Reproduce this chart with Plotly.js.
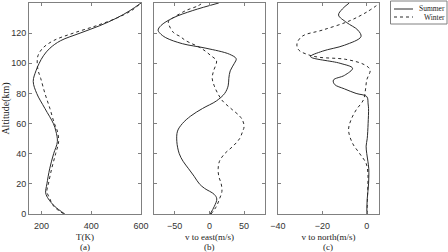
<!DOCTYPE html>
<html><head><meta charset="utf-8">
<script src="https://cdn.plot.ly/plotly-3.0.1.min.js"></script>
<style>html,body{margin:0;padding:0;background:#fff}#c{width:448px;height:252px}</style>
</head><body><div id="c"></div>
<script>
// Panel (a): temperature
const altTS = [0,5,10,14,20,30,40,48,55,60,70,80,88,95,100,105,110,115,120,125,130,135,140];
const tempSummer = [294,254,228,217,222,233,249,264,258,248,214,181,167,178,191,208,234,277,355,435,502,556,600];
const altTW = [0,5,10,15,20,30,40,48,55,60,70,80,90,95,100,105,110,115,120,125,130,135,140];
const tempWinter = [290,250,234,222,228,241,257,269,264,252,234,214,197,187,183,186,205,248,328,422,502,562,600];
// Panel (b): eastward wind
const altES = [0,5,10,13,17,20,25,30,35,40,48,55,60,65,70,75,80,85,90,95,100,103,106,110,113,117,120,122,125,130,135,140];
const eastSummer = [1,7,10.6,7,-7,-14.5,-22,-30,-38,-43.5,-47,-46,-39,-27,-10,10,22,27,28,30,36,38.6,29,-5,-39,-63,-71.5,-74,-70,-53,-24,13.5];
const altEW = [0,5,10,15,20,25,30,35,40,45,50,55,58,62,65,70,75,80,85,90,95,100,102,105,110,115,118,120,125,128,130,135,138,140];
const eastWinter = [2.4,10,14.5,18,17,13.5,12.6,14.5,22,34,43.5,48,50,48,43.5,31,19,12,7,4,6,10,10,2.4,-12,-34,-43,-51,-58,-59,-53,-34,-17,-10];
// Panel (c): northward wind
const altNS = [0,10,20,30,35,40,45,50,60,70,73,77.9,80,83,86,88.9,92,96.7,100,104.4,108,112,117.7,122,127,132,136,140];
const northSummer = [0,0.2,0.8,0.9,0.5,0,-0.3,0.2,0.6,0.8,0.6,0,-4.8,-10,-14.5,-15,-10,-6.4,-12,-25.3,-20,-10,-2.6,-4,-9,-12.7,-11,-7.9];
const altNW = [0,10,20,27,33.6,40.3,46.9,55.7,62.4,69,75.7,82.3,89,95.6,99,102.6,104,105.5,108.8,113,118,122,128,134,140];
const northWinter = [0.15,0.3,0.5,0.5,-0.3,-3.3,-6.4,-8.2,-7.1,-4.8,-1.5,-0.6,0,1.5,-1,-9.4,-21.5,-26,-30.6,-31.4,-29,-20,-8,0,6];

const seriesNames = ["Summer","Winter"];
const panelTitles = ["T(K)","v to east(m/s)","v to north(m/s)"];
const panelLetters = ["(a)","(b)","(c)"];

const lineCol = '#2b2b2b';
const solid = {color: lineCol, width: 1, shape: 'spline', smoothing: 1};
const dotted = {color: lineCol, width: 1, dash: 'dot', shape: 'spline', smoothing: 1};

const traces = [
  {x: tempSummer, y: altTS, xaxis:'x', yaxis:'y', mode:'lines', line: solid, name: seriesNames[0]},
  {x: tempWinter, y: altTW, xaxis:'x', yaxis:'y', mode:'lines', line: dotted, name: seriesNames[1]},
  {x: eastSummer, y: altES, xaxis:'x2', yaxis:'y2', mode:'lines', line: solid, name: seriesNames[0]},
  {x: eastWinter, y: altEW, xaxis:'x2', yaxis:'y2', mode:'lines', line: dotted, name: seriesNames[1]},
  {x: northSummer, y: altNS, xaxis:'x3', yaxis:'y3', mode:'lines', line: solid, name: seriesNames[0]},
  {x: northWinter, y: altNW, xaxis:'x3', yaxis:'y3', mode:'lines', line: dotted, name: seriesNames[1]}
];

const axCol = '#808080';
const tickFont = {family: 'Liberation Sans, Arial, sans-serif', size: 9, color: '#333'};
const titleFont = {family: 'Liberation Serif, Times New Roman, serif', size: 9, color: '#222'};
function xa(domain, range, tickvals, title) {
  return {domain, range, tickvals, ticks:'inside', ticklen:3, tickcolor: axCol, mirror:'ticks',
    showline:true, linecolor:axCol, linewidth:1, zeroline:false, showgrid:false, tickfont:tickFont,
    ticklabelstandoff: 3, title:{text:title, font:titleFont, standoff:3}, fixedrange:true};
}
function ya(anchor, labels) {
  return {anchor, range:[0,140], dtick:20, ticks:'inside', ticklen:3, tickcolor: axCol, mirror:'ticks',
    showline:true, linecolor:axCol, linewidth:1, zeroline:false, showgrid:false, tickfont:tickFont,
    showticklabels: labels, title: labels ? {text:'Altitude(km)', font:{family:titleFont.family, size:10, color:'#222'}, standoff:2} : undefined};
}

const W = 350, H = 211, L = 29, T = 3;
const px = v => (v - L) / W;
const py = v => (T + H - v) / H;
const legFont = {family: titleFont.family, size: 7.5, color: '#222'};

const layout = {
  width: 448, height: 252,
  margin: {l: L, r: 448 - L - W, t: T, b: 252 - T - H, pad: 0},
  paper_bgcolor: '#fff', plot_bgcolor: '#fff', showlegend: false,
  xaxis: xa([0, 0.32], [150, 600], [200,400,600], panelTitles[0]),
  xaxis2: xa([0.357, 0.674], [-80, 80], [-50,0,50], panelTitles[1]),
  xaxis3: xa([0.711, 1], [-40, 5.5], [-40,-20,0], panelTitles[2]),
  yaxis: ya('x', true),
  yaxis2: ya('x2', false),
  yaxis3: ya('x3', false),
  shapes: [
    {type:'rect', xref:'paper', yref:'paper', x0:px(390.5), x1:px(447), y0:py(24), y1:py(1), line:{color:axCol, width:1}, fillcolor:'#fff'},
    {type:'line', xref:'paper', yref:'paper', x0:px(394), x1:px(413), y0:py(9), y1:py(9), line:{color:lineCol, width:1}},
    {type:'line', xref:'paper', yref:'paper', x0:px(394), x1:px(413), y0:py(17), y1:py(17), line:{color:lineCol, width:1, dash:'dot'}}
  ],
  annotations: [
    {xref:'paper', yref:'paper', x:px(445.5), y:py(9), xanchor:'right', yanchor:'middle', showarrow:false, text:seriesNames[0], font:legFont, borderpad:0},
    {xref:'paper', yref:'paper', x:px(445.5), y:py(17), xanchor:'right', yanchor:'middle', showarrow:false, text:seriesNames[1], font:legFont, borderpad:0},
    {xref:'paper', yref:'paper', x:0.16, y:py(246.5), xanchor:'center', yanchor:'middle', showarrow:false, text:panelLetters[0], font:titleFont, borderpad:0},
    {xref:'paper', yref:'paper', x:(0.357+0.674)/2, y:py(246.5), xanchor:'center', yanchor:'middle', showarrow:false, text:panelLetters[1], font:titleFont, borderpad:0},
    {xref:'paper', yref:'paper', x:(0.711+1)/2, y:py(246.5), xanchor:'center', yanchor:'middle', showarrow:false, text:panelLetters[2], font:titleFont, borderpad:0}
  ]
};
Plotly.newPlot('c', traces, layout, {displayModeBar:false, staticPlot:true});
</script></body></html>
